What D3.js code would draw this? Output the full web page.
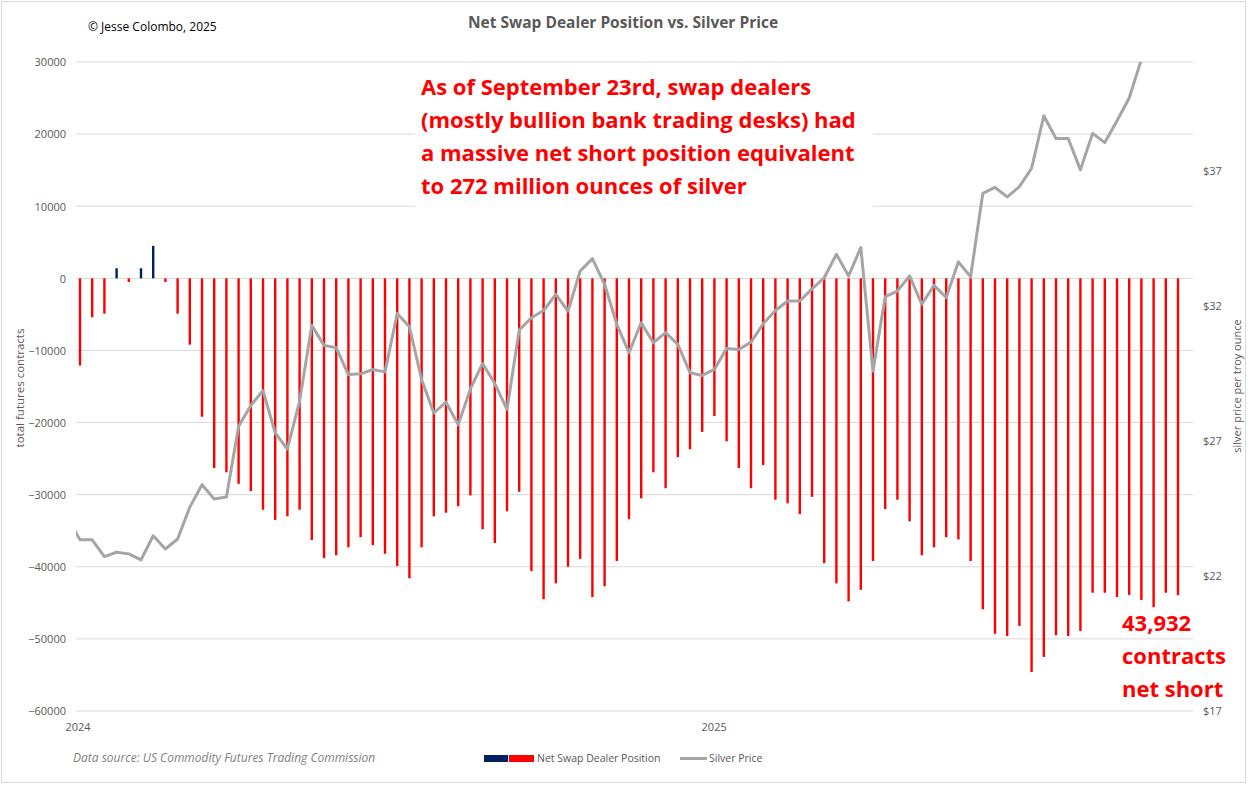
<!DOCTYPE html>
<html>
<head>
<meta charset="utf-8">
<script src="https://cdn.jsdelivr.net/npm/d3@7.9.0/dist/d3.min.js"></script>
<style>
  body { margin: 0; background: #fff; }
  svg { font-family: "Open Sans", "Noto Sans", sans-serif; }
</style>
</head>
<body>
<svg id="chart" width="1248" height="785"></svg>
<script>
// weekly net swap dealer position (contracts), Jan 2 2024 .. Sep 23 2025
const netPosition = [
  -12100, -5400, -4900, 1400, -500, 1400, 4500, -500, -4900, -9200,
  -19200, -26300, -26900, -28500, -29500, -32100, -33500, -33000, -32100, -36300,
  -38800, -38400, -37300, -35900, -37000, -38200, -39900, -41600, -37300, -33000,
  -32500, -31600, -30100, -34800, -36700, -32300, -29600, -40600, -44500, -42300,
  -40000, -38900, -44200, -42700, -39200, -33400, -30500, -26900, -29100, -24800,
  -23700, -21300, -19100, -22600, -26300, -29100, -25900, -30700, -31200, -32700,
  -30300, -39500, -42300, -44800, -43200, -39200, -32000, -30700, -33700, -38400,
  -37300, -35900, -36200, -39200, -45900, -49300, -49600, -48200, -54600, -52500,
  -49500, -49600, -48900, -43600, -43600, -44200, -43900, -44600, -45600, -43600,
  -43932
];

// silver price ($/oz), one week earlier start (Dec 26 2023)
const silverPrice = [
  24.1,
  23.33, 23.33, 22.71, 22.87, 22.81, 22.59, 23.48, 22.99, 23.36, 24.54,
  25.37, 24.84, 24.91, 27.53, 28.30, 28.85, 27.28, 26.69, 28.46, 31.26,
  30.52, 30.43, 29.44, 29.47, 29.63, 29.54, 31.70, 31.21, 29.26, 28.02,
  28.42, 27.59, 28.91, 29.85, 29.11, 28.15, 31.09, 31.54, 31.81, 32.41,
  31.79, 33.27, 33.73, 32.78, 31.30, 30.25, 31.36, 30.62, 30.99, 30.56,
  29.51, 29.41, 29.63, 30.41, 30.37, 30.64, 31.32, 31.81, 32.16, 32.16,
  32.61, 33.02, 33.89, 33.09, 34.14, 29.57, 32.32, 32.53, 33.09, 32.04,
  32.74, 32.29, 33.61, 33.06, 36.14, 36.36, 36.01, 36.39, 37.07, 39.01,
  38.17, 38.17, 37.01, 38.36, 38.02, 38.83, 39.67, 41.1, 41.3, 42.6,
  44.0
];

const leftTicks = [30000, 20000, 10000, 0, -10000, -20000, -30000, -40000, -50000, -60000];
const rightTicks = [17, 22, 27, 32, 37];
const yearTicks = ["2024-01-02", "2025-01-01"];
const yearLabels = ["2024", "2025"];

const annotationLines = [
  "As of September 23rd, swap dealers",
  "(mostly bullion bank trading desks) had",
  "a massive net short position equivalent",
  "to 272 million ounces of silver"
];
const calloutLines = ["43,932", "contracts", "net short"];

const barDates = d3.utcTuesday.range(new Date(Date.UTC(2024, 0, 2)), new Date(Date.UTC(2025, 8, 24)));
const silverDates = d3.utcTuesday.range(new Date(Date.UTC(2023, 11, 26)), new Date(Date.UTC(2025, 8, 24)));

const svg = d3.select('#chart');
const plot = { left: 76, right: 1193, top: 62, bottom: 711 };

const x = d3.scaleUtc()
  .domain([barDates[0], barDates[barDates.length - 1]])
  .range([80, 1178]);
const yLeft = d3.scaleLinear().domain([-60000, 30000]).range([plot.bottom, plot.top]);
const yRight = d3.scaleLinear().domain([17, 41]).range([plot.bottom, plot.top]);

// outer border
svg.append('rect')
  .attr('x', 1.5).attr('y', 1.5).attr('width', 1244).attr('height', 781)
  .attr('fill', 'none').attr('stroke', '#d9d9d9');

svg.append('defs').append('clipPath').attr('id', 'clip')
  .append('rect')
  .attr('x', plot.left).attr('y', plot.top)
  .attr('width', plot.right - plot.left).attr('height', plot.bottom - plot.top);

// gridlines
svg.append('g').selectAll('line')
  .data(leftTicks)
  .join('line')
  .attr('x1', plot.left).attr('x2', plot.right)
  .attr('y1', d => yLeft(d)).attr('y2', d => yLeft(d))
  .attr('stroke', '#d9d9d9').attr('stroke-width', 1);

// left axis
const leftAxis = svg.append('g')
  .attr('transform', `translate(${plot.left - 10},0)`)
  .call(d3.axisLeft(yLeft).tickValues(leftTicks).tickSize(0).tickFormat(d3.format('d')));
leftAxis.select('.domain').remove();
leftAxis.selectAll('text')
  .attr('font-family', '"Open Sans", sans-serif')
  .attr('font-size', 11).attr('fill', '#595959').attr('x', 0).attr('dy', '0.35em');

// right axis
const rightAxis = svg.append('g')
  .attr('transform', `translate(1203,0)`)
  .call(d3.axisRight(yRight).tickValues(rightTicks).tickSize(0).tickFormat(d => '$' + d));
rightAxis.select('.domain').remove();
rightAxis.selectAll('text')
  .attr('font-family', '"Open Sans", sans-serif')
  .attr('font-size', 11).attr('fill', '#595959').attr('x', 0).attr('dy', '0.35em');

// x axis year labels
svg.append('g').selectAll('text')
  .data(yearTicks)
  .join('text')
  .attr('x', d => x(new Date(d + 'T00:00:00Z')) - 2)
  .attr('y', 731)
  .attr('text-anchor', 'middle')
  .attr('font-size', 11).attr('fill', '#595959')
  .text((d, i) => yearLabels[i]);

// annotation with white box
svg.append('rect')
  .attr('x', 415).attr('y', 68).attr('width', 458).attr('height', 140)
  .attr('fill', '#fff');
svg.append('g').selectAll('text')
  .data(annotationLines)
  .join('text')
  .attr('x', 421)
  .attr('y', (d, i) => 95 + i * 33)
  .attr('font-size', 22).attr('font-weight', 'bold').attr('fill', '#ff0000')
  .text(d => d);

// bars
svg.append('g').selectAll('rect')
  .data(netPosition)
  .join('rect')
  .attr('x', (d, i) => x(barDates[i]) - 1.2)
  .attr('width', 2.4)
  .attr('y', d => yLeft(Math.max(0, d)))
  .attr('height', d => Math.abs(yLeft(d) - yLeft(0)))
  .attr('fill', d => d >= 0 ? '#002060' : '#ff0000');

// silver price line
const line = d3.line()
  .x((d, i) => x(silverDates[i]))
  .y(d => yRight(d));
svg.append('path')
  .datum(silverPrice)
  .attr('clip-path', 'url(#clip)')
  .attr('d', line)
  .attr('fill', 'none')
  .attr('stroke', '#a5a5a5')
  .attr('stroke-width', 3)
  .attr('stroke-linejoin', 'round');

// callout
svg.append('g').selectAll('text')
  .data(calloutLines)
  .join('text')
  .attr('x', 1122)
  .attr('y', (d, i) => 631 + i * 33)
  .attr('font-size', 22).attr('font-weight', 'bold').attr('fill', '#ff0000')
  .text(d => d);

// titles
svg.append('text')
  .attr('x', 623).attr('y', 28)
  .attr('text-anchor', 'middle')
  .attr('font-size', 15.5).attr('font-weight', 'bold').attr('fill', '#595959')
  .text('Net Swap Dealer Position vs. Silver Price');

svg.append('text')
  .attr('x', 88).attr('y', 31)
  .attr('font-size', 12).attr('fill', '#000')
  .text('© Jesse Colombo, 2025');

svg.append('text')
  .attr('transform', 'translate(24,388) rotate(-90)')
  .attr('text-anchor', 'middle')
  .attr('font-size', 11.5).attr('fill', '#595959')
  .text('total futures contracts');

svg.append('text')
  .attr('transform', 'translate(1241,386) rotate(-90)')
  .attr('text-anchor', 'middle')
  .attr('font-size', 11).attr('fill', '#595959')
  .text('silver price per troy ounce');

svg.append('text')
  .attr('x', 73).attr('y', 762)
  .attr('font-size', 12).attr('font-style', 'italic').attr('fill', '#7f7f7f')
  .text('Data source: US Commodity Futures Trading Commission');

// legend
const legend = svg.append('g');
legend.append('rect').attr('x', 484).attr('y', 755).attr('width', 24).attr('height', 7).attr('fill', '#002060');
legend.append('rect').attr('x', 509).attr('y', 755).attr('width', 25).attr('height', 7).attr('fill', '#ff0000');
legend.append('text').attr('x', 537).attr('y', 762).attr('font-size', 10.5).attr('fill', '#595959').text('Net Swap Dealer Position');
legend.append('line').attr('x1', 680).attr('x2', 707).attr('y1', 758.5).attr('y2', 758.5)
  .attr('stroke', '#a5a5a5').attr('stroke-width', 3);
legend.append('text').attr('x', 709).attr('y', 762).attr('font-size', 10.5).attr('fill', '#595959').text('Silver Price');
</script>
</body>
</html>
